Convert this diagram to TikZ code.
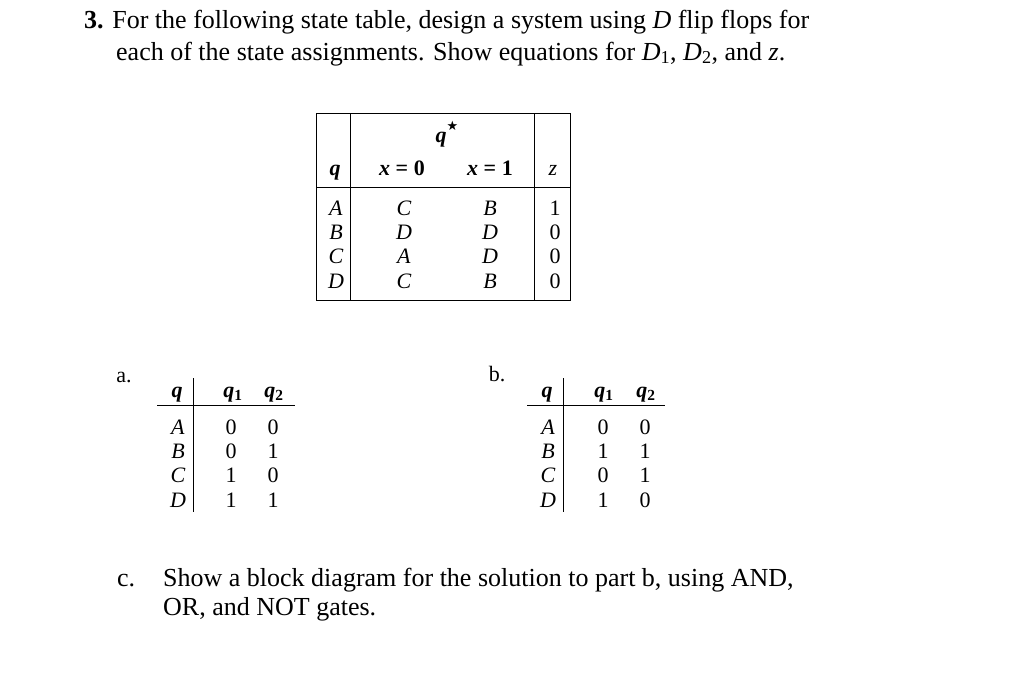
\documentclass[tikz,border=0pt]{standalone}
\usepackage{fontspec}
\setmainfont{Liberation Serif}
\newfontfamily\symf{DejaVu Sans}
\begin{document}
\begin{tikzpicture}[x=1pt,y=-1pt,
 t/.style={anchor=base,inner sep=0pt,font=\fontsize{22}{26}\selectfont},
 big/.style={anchor=base west,inner sep=0pt,font=\fontsize{26}{30}\selectfont},
 ln/.style={line width=1pt}]
\useasboundingbox (0,0) rectangle (1024,681);
\node[big] (l1) at (84,28) {\textbf{3.} For the following state table, design a system using \textit{D} flip flops for};
\node[big] (l2) at (116,60) {each of the state assignments. Show equations for \textit{D}\textsubscript{1}, \textit{D}\textsubscript{2}, and \textit{z}.};
% main table
\draw[ln] (316,113) rectangle (570,300);
\draw[ln] (350,113) -- (350,300);
\draw[ln] (534,113) -- (534,300);
\draw[ln] (316,187) -- (570,187);
\node[t] (qs) at (447,142) {\textbf{\textit{q}}\raisebox{1.1ex}{\symf\fontsize{13}{13}\selectfont ★}};
\node[t] (hq) at (335,175) {\textbf{\textit{q}}};
\node[t] (hx0) at (402,175) {\textbf{\textit{x} = 0}};
\node[t] (hx1) at (490,175) {\textbf{\textit{x} = 1}};
\node[t] (hz) at (553,175) {\textit{z}};
\foreach \y/\a/\b/\c/\d [count=\i] in {215/A/C/B/1,239/B/D/D/0,263/C/A/D/0,288/D/C/B/0}{
 \node[t] (m\i a) at (336,\y) {\textit{\a}};
 \node[t] (m\i b) at (404,\y) {\textit{\b}};
 \node[t] (m\i c) at (490,\y) {\textit{\c}};
 \node[t] (m\i d) at (555,\y) {\d};
}
% table a
\node[t] (la) at (124,382) {a.};
\draw[ln] (193,378) -- (193,512);
\draw[ln] (157,405) -- (295,405);
\node[t] (aq) at (177,397) {\textbf{\textit{q}}};
\node[t] (aq1) at (233,397) {\textbf{\textit{q}}\textsubscript{\textbf{1}}};
\node[t] (aq2) at (274,397) {\textbf{\textit{q}}\textsubscript{\textbf{2}}};
\foreach \y/\a/\b/\c [count=\i] in {434/A/0/0,458/B/0/1,482/C/1/0,507/D/1/1}{
 \node[t] (a\i a) at (178,\y) {\textit{\a}};
 \node[t] (a\i b) at (231,\y) {\b};
 \node[t] (a\i c) at (273,\y) {\c};
}
% table b
\node[t] (lb) at (497,381) {b.};
\draw[ln] (563,378) -- (563,512);
\draw[ln] (527,405) -- (665,405);
\node[t] (bq) at (547,397) {\textbf{\textit{q}}};
\node[t] (bq1) at (604,397) {\textbf{\textit{q}}\textsubscript{\textbf{1}}};
\node[t] (bq2) at (646,397) {\textbf{\textit{q}}\textsubscript{\textbf{2}}};
\foreach \y/\a/\b/\c [count=\i] in {434/A/0/0,458/B/1/1,482/C/0/1,507/D/1/0}{
 \node[t] (b\i a) at (548,\y) {\textit{\a}};
 \node[t] (b\i b) at (603,\y) {\b};
 \node[t] (b\i c) at (645,\y) {\c};
}
% part c
\node[big] (lc) at (117,586) {c.};
\node[big] (c1) at (163,586) {Show a block diagram for the solution to part b, using AND,};
\node[big] (c2) at (163,615) {OR, and NOT gates.};
\end{tikzpicture}
\end{document}
